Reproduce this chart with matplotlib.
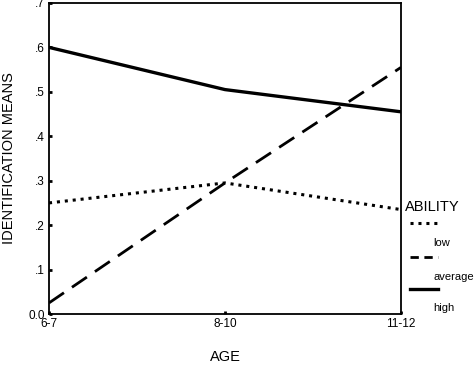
import matplotlib
matplotlib.use("Agg")
import matplotlib.pyplot as plt
from matplotlib.lines import Line2D

plt.rcParams["font.family"] = ["Liberation Sans", "DejaVu Sans"]

ages = ["6-7", "8-10", "11-12"]
low = [0.250, 0.295, 0.235]
average = [0.025, 0.295, 0.555]
high = [0.600, 0.505, 0.455]
yticks = [0.0, 0.1, 0.2, 0.3, 0.4, 0.5, 0.6, 0.7]
ytick_labels = ["0.0", ".1", ".2", ".3", ".4", ".5", ".6", ".7"]

fig = plt.figure(figsize=(4.74, 3.66), dpi=100)
ax = fig.add_axes([0.1034, 0.142, 0.7426, 0.850])

x = list(range(len(ages)))
ax.plot(x, low, color="black", lw=2.2, linestyle=(0, (1, 1.6)))
ax.plot(x, average, color="black", lw=2.0, linestyle=(0, (6.5, 3.5)))
ax.plot(x, high, color="black", lw=2.4, linestyle="-")

ax.set_xlim(0, 2)
ax.set_ylim(0, 0.7)
ax.set_xticks(x)
ax.set_xticklabels(ages, fontsize=8.5)
ax.set_yticks(yticks)
ax.set_yticklabels(ytick_labels, fontsize=8.5)
ax.tick_params(direction="in", length=2, width=2, pad=3)
for s in ax.spines.values():
    s.set_linewidth(1.3)

ax.set_xlabel("AGE", fontsize=10.5, labelpad=14)
ax.set_ylabel("IDENTIFICATION MEANS", fontsize=10.5, labelpad=9)

# hand-made legend to the right of the axes
fig.text(405 / 474, 1 - 207 / 366, "ABILITY", fontsize=10.5, va="center", ha="left")
styles = [((0, (1, 1.6)), 2.2, 223, "low", 243),
          ((0, (3, 2)), 2.0, 257, "average", 277),
          ("-", 2.4, 289, "high", 308)]
for ls, lw, ly, lab, ty in styles:
    fig.add_artist(Line2D([410 / 474, 438 / 474], [1 - ly / 366, 1 - ly / 366],
                          color="black", lw=lw, linestyle=ls))
    fig.text(433 / 474, 1 - ty / 366, lab, fontsize=8, va="center", ha="left")

fig.savefig("out.png", dpi=100)
